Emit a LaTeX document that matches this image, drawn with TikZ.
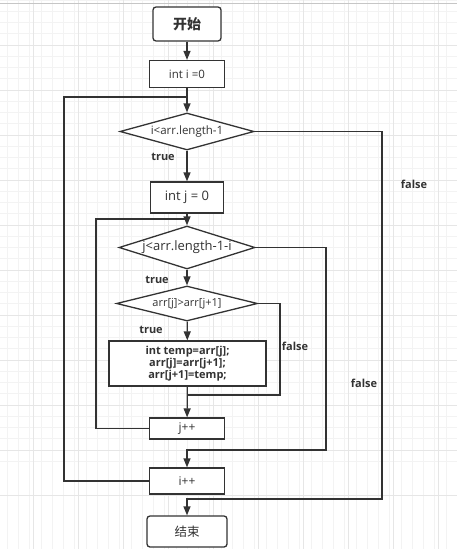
\documentclass[tikz,border=0pt]{standalone}
\usepackage{fontspec}
\setmainfont{Open Sans}
\newfontfamily\cjk{Noto Sans CJK SC}
\usetikzlibrary{shapes.geometric,arrows.meta}
\definecolor{ink}{HTML}{333333}
\definecolor{gridminor}{HTML}{F3F3F3}
\definecolor{gridmajor}{HTML}{E6E6E6}
\begin{document}
\begin{tikzpicture}[x=1pt,y=-1pt]

\tikzstyle term=[draw=ink, line width=1.3pt, fill=white, rounded corners=3pt, text=ink, inner sep=0pt]
\tikzstyle proc=[draw=ink, line width=1.3pt, fill=white, text=ink, inner sep=0pt]
\tikzstyle dec=[diamond, draw=ink, line width=1.3pt, fill=white, text=ink, inner sep=0pt]
\tikzstyle lbl=[text=ink, font=\bfseries\fontsize{11}{12}\selectfont]
\tikzstyle flow=[draw=ink, line width=1.3pt, -{Triangle[length=9pt,width=7pt]}]
\tikzstyle link=[draw=ink, line width=1.3pt]

% background grid
\useasboundingbox (0,0) rectangle (457,549);
\fill[white] (0,0) rectangle (457,549);
\foreach \k in {0,...,41} {
\draw[gridminor, line width=0.8pt] (\k*11.25-4,0) -- (\k*11.25-4,549);
\draw[gridminor, line width=0.8pt] (0,\k*11.25) -- (457,\k*11.25);
}
\foreach \k in {0,...,10} {
\draw[gridmajor, line width=0.8pt] (33+\k*45,0) -- (33+\k*45,549);
\draw[gridmajor, line width=0.8pt] (0,45+\k*45) -- (457,45+\k*45);
}
\draw[gray!45, line width=0.8pt] (0,3.5) -- (457,3.5);

\node (start) [term, minimum width=68pt, minimum height=34pt, font=\cjk\bfseries\fontsize{14}{15}\selectfont] at (187,24) {开始};
\node (i0) [proc, minimum width=75pt, minimum height=27pt, font=\fontsize{11.5}{12}\selectfont] at (187,74) {int i =0};
\node (d1) [dec, minimum width=134pt, minimum height=37pt, aspect=3.6, font=\fontsize{11.5}{12}\selectfont] at (187,131.5) {i<arr.length-1};
\node (j0) [proc, minimum width=73pt, minimum height=31pt, font=\fontsize{13}{14}\selectfont] at (187,197.5) {int j = 0};
\node (d2) [dec, minimum width=136pt, minimum height=43pt, aspect=3.2, font=\fontsize{13}{14}\selectfont] at (187,247.5) {j<arr.length-1-i};
\node (d3) [dec, minimum width=141pt, minimum height=35pt, aspect=4, font=\fontsize{11}{12}\selectfont] at (187,303.5) {arr[j]>arr[j+1]};
\node (swap) [proc, minimum width=157pt, minimum height=45pt, align=center, font=\bfseries\fontsize{11}{12}\selectfont] at (187.5,363.5) {int temp=arr[j];\\arr[j]=arr[j+1];\\arr[j+1]=temp;};
\node (jinc) [proc, minimum width=75pt, minimum height=21pt, font=\fontsize{12}{13}\selectfont] at (187,428.5) {j++};
\node (iinc) [proc, minimum width=75pt, minimum height=26pt, font=\fontsize{12}{13}\selectfont] at (187,481) {i++};
\node (end) [term, minimum width=80pt, minimum height=31pt, font=\cjk\fontsize{12.5}{13}\selectfont] at (187,531.5) {结束};

\coordinate (m1) at (187,97);
\coordinate (m2) at (187,219);
\coordinate (m3) at (187,395);
\coordinate (r1) at (382,499);
\coordinate (r2) at (326,450);
\coordinate (r3) at (280,395);
\coordinate (l1) at (64,481);
\coordinate (l2) at (96,428.5);

\draw [flow] (start) -- (i0);
\draw [flow] (i0) -- (d1);
\draw [flow] (d1) -- (j0);
\draw [flow] (j0) -- (d2);
\draw [flow] (d2) -- (d3);
\draw [flow] (d3) -- (swap);
\draw [flow] (swap) -- (jinc);

\draw [link] (d3.east) -| (r3) -- (m3);
\draw [link] (jinc.west) -- (l2) |- (m2);
\draw [flow] (d2.east) -| (r2) -| (iinc.north);
\draw [link] (iinc.west) -- (l1) |- (m1);
\draw [flow] (d1.east) -| (r1) -| (end.north);

\node (t1) [lbl] at (163,157) {true};
\node (t2) [lbl] at (157,280) {true};
\node (t3) [lbl] at (151,330) {true};
\node (f3) [lbl] at (295,346) {false};
\node (f2) [lbl] at (364,383) {false};
\node (f1) [lbl] at (414,184) {false};

\end{tikzpicture}
\end{document}
